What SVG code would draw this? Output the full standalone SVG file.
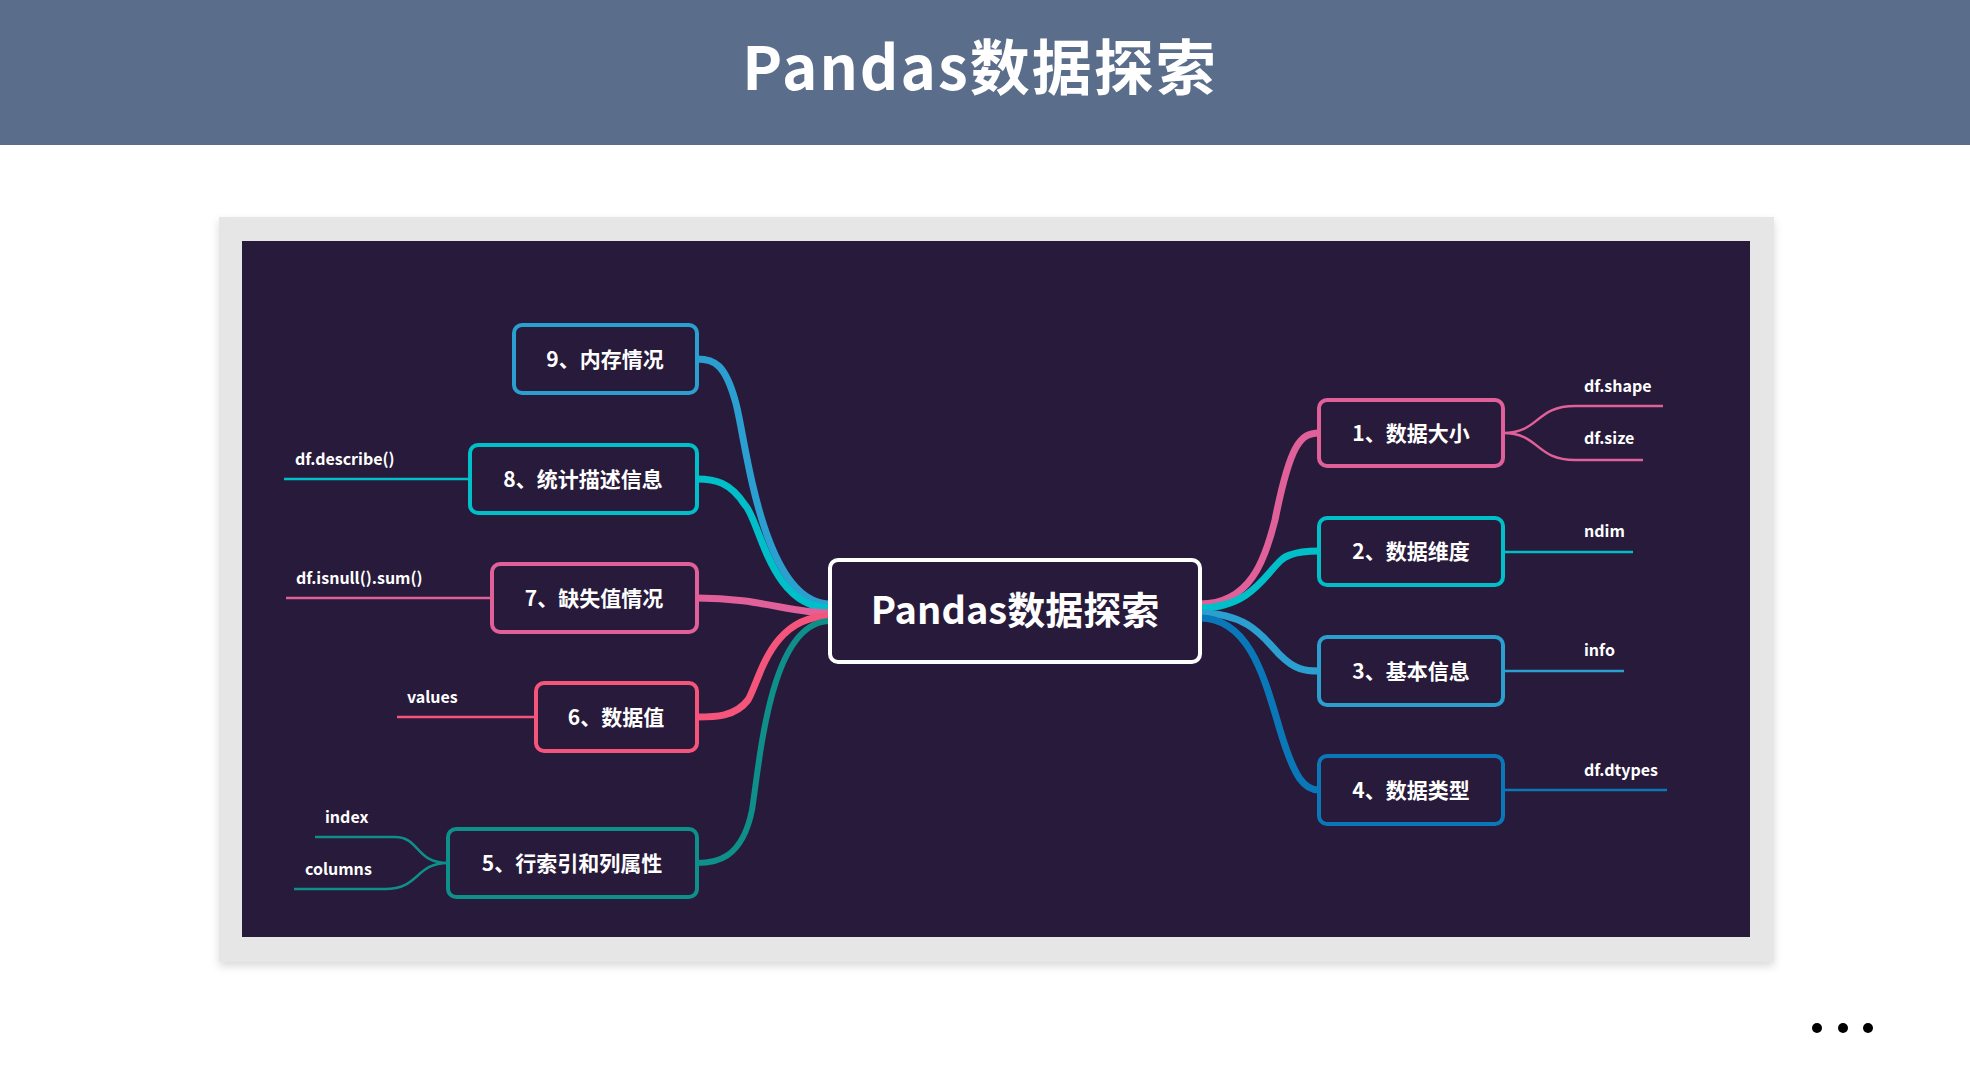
<svg xmlns="http://www.w3.org/2000/svg" width="1970" height="1080" viewBox="0 0 1970 1080">
<defs>
<style>
.t{font-family:"Noto Sans CJK SC","Liberation Sans",sans-serif;font-weight:bold;fill:#fff}
.n{font-size:21px;text-anchor:middle}
.l{font-size:16px}
.box{fill:#271a3a;stroke-width:4}
.c{fill:none;stroke-linecap:round}
</style>
<filter id="sh" x="-5%" y="-5%" width="110%" height="110%"><feDropShadow dx="0" dy="4" stdDeviation="4" flood-color="#000" flood-opacity="0.15"/></filter>
</defs>
<rect width="1970" height="1080" fill="#fff"/>
<rect width="1970" height="145" fill="#5a6e8c"/>
<text x="980" y="90" class="t" font-size="60" text-anchor="middle" letter-spacing="2">Pandas数据探索</text>
<rect x="219" y="217" width="1555" height="745" fill="#e6e6e6" filter="url(#sh)"/>
<rect x="242" y="241" width="1508" height="696" fill="#271a3a"/>
<g id="connectors">
<path class="c" stroke="#2a9fd0" stroke-width="7" d="M830,604 C760,604 745,430 735,400 C725,365 715,359 697,359"/>
<path class="c" stroke="#00bfc8" stroke-width="7" d="M830,608 C770,608 760,520 745,505 C730,482 715,479 697,479"/>
<path class="c" stroke="#e0609a" stroke-width="7" d="M830,613 C790,613 760,598 697,598"/>
<path class="c" stroke="#f5557a" stroke-width="7" d="M830,616 C770,616 760,680 748,700 C735,717 715,717 697,717"/>
<path class="c" stroke="#0e8f8a" stroke-width="6" d="M830,621 C770,621 760,760 752,810 C742,860 715,863 697,863"/>
<path class="c" stroke="#e0609a" stroke-width="7" d="M1200,604 C1250,604 1265,560 1275,520 C1290,445 1300,433 1319,433"/>
<path class="c" stroke="#00bfc8" stroke-width="7" d="M1200,608 C1260,608 1270,560 1290,555 C1300,551 1310,551 1319,551"/>
<path class="c" stroke="#2a9fd0" stroke-width="7" d="M1200,613 C1250,613 1265,640 1280,655 C1295,670 1305,671 1319,671"/>
<path class="c" stroke="#0a78b8" stroke-width="7" d="M1200,618 C1250,618 1265,680 1280,730 C1295,780 1305,790 1319,790"/>
<g fill="none" stroke-width="2.5">
<path stroke="#e0609a" d="M1503,433 C1540,433 1535,406 1575,406 L1663,406 M1503,433 C1540,433 1535,460 1575,460 L1643,460"/>
<path stroke="#00bfc8" d="M1503,552 L1633,552"/>
<path stroke="#2a9fd0" d="M1503,671 L1624,671"/>
<path stroke="#0a78b8" d="M1503,790 L1667,790"/>
<path stroke="#00bfc8" d="M470,479 L284,479"/>
<path stroke="#e0609a" d="M492,598 L286,598"/>
<path stroke="#f5557a" d="M536,717 L397,717"/>
<path stroke="#0e8f8a" d="M448,863 C415,863 420,837 395,837 L315,837 M448,863 C415,863 420,889 385,889 L294,889"/>
</g>
</g>
<g id="center"><rect x="830" y="560" width="370" height="102" rx="8" class="box" stroke="#fff"/><text x="1015" y="624" class="t" font-size="38" text-anchor="middle">Pandas数据探索</text></g>
<g id="n9"><rect x="514" y="325" width="183" height="68" rx="8" class="box" stroke="#2a9fd0"/><text x="605" y="367" class="t n">9、内存情况</text></g>
<g id="n8"><rect x="470" y="445" width="227" height="68" rx="8" class="box" stroke="#00bfc8"/><text x="583" y="487" class="t n">8、统计描述信息</text></g>
<g id="n7"><rect x="492" y="564" width="205" height="68" rx="8" class="box" stroke="#e0609a"/><text x="594" y="606" class="t n">7、缺失值情况</text></g>
<g id="n6"><rect x="536" y="683" width="161" height="68" rx="8" class="box" stroke="#f5557a"/><text x="616" y="725" class="t n">6、数据值</text></g>
<g id="n5"><rect x="448" y="829" width="249" height="68" rx="8" class="box" stroke="#0e8f8a"/><text x="572" y="871" class="t n">5、行索引和列属性</text></g>
<g id="n1"><rect x="1319" y="400" width="184" height="66" rx="8" class="box" stroke="#e0609a"/><text x="1411" y="441" class="t n">1、数据大小</text></g>
<g id="n2"><rect x="1319" y="518" width="184" height="67" rx="8" class="box" stroke="#00bfc8"/><text x="1411" y="559" class="t n">2、数据维度</text></g>
<g id="n3"><rect x="1319" y="637" width="184" height="68" rx="8" class="box" stroke="#2a9fd0"/><text x="1411" y="679" class="t n">3、基本信息</text></g>
<g id="n4"><rect x="1319" y="756" width="184" height="68" rx="8" class="box" stroke="#0a78b8"/><text x="1411" y="798" class="t n">4、数据类型</text></g>
<g id="leaves">
<text x="1584" y="392" class="t l">df.shape</text>
<text x="1584" y="444" class="t l">df.size</text>
<text x="1584" y="537" class="t l">ndim</text>
<text x="1584" y="656" class="t l">info</text>
<text x="1584" y="776" class="t l">df.dtypes</text>
<text x="295" y="465" class="t l">df.describe()</text>
<text x="296" y="584" class="t l">df.isnull().sum()</text>
<text x="407" y="703" class="t l">values</text>
<text x="325" y="823" class="t l">index</text>
<text x="305" y="875" class="t l">columns</text>
</g>
<g fill="#000"><circle cx="1817" cy="1028" r="5"/><circle cx="1843" cy="1028" r="5"/><circle cx="1868" cy="1028" r="5"/></g>
</svg>
